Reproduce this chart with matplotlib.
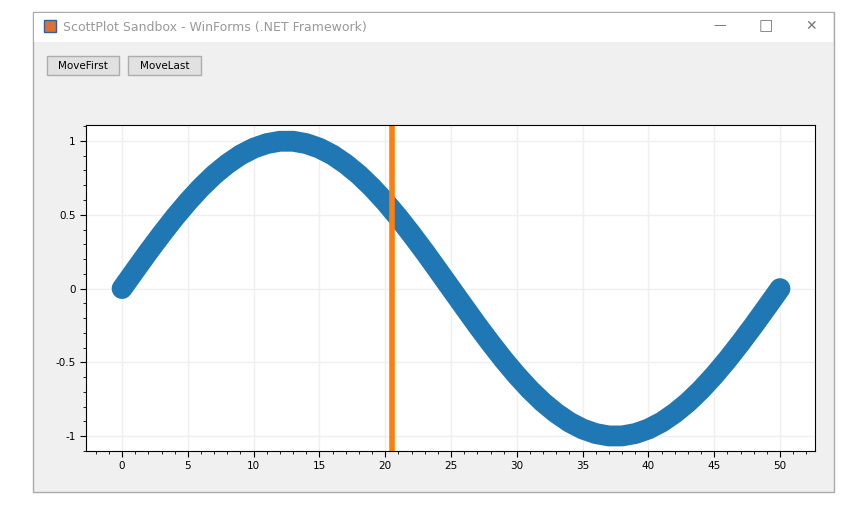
import matplotlib
matplotlib.use("Agg")
import matplotlib.pyplot as plt
from matplotlib.patches import Rectangle
from matplotlib.ticker import MultipleLocator

xs = list(range(51))
half = [0.0, 0.125, 0.249, 0.368, 0.482, 0.588, 0.685, 0.771, 0.844, 0.905, 0.951,
        0.982, 0.998, 0.998, 0.982, 0.951, 0.905, 0.844, 0.771, 0.685, 0.588, 0.482,
        0.368, 0.249, 0.125]
ys = half + [0.0] + [-v for v in half[1:]] + [0.0]
vline_x = 20.5
buttons = ["MoveFirst", "MoveLast"]

W, H = 861, 524
fig = plt.figure(figsize=(W / 100, H / 100), dpi=100)
fig.patch.set_facecolor("white")

def px(x, y, w, h):
    return (x / W, 1 - (y + h) / H, w / W, h / H)

# window frame
x0, y0, w0, h0 = px(33, 12, 801, 480)
fig.patches.append(Rectangle((x0, y0), w0, h0, transform=fig.transFigure,
                             facecolor="#f0f0f0", edgecolor="#aaaaaa", lw=1))
x0, y0, w0, h0 = px(34, 13, 799, 29)
fig.patches.append(Rectangle((x0, y0), w0, h0, transform=fig.transFigure,
                             facecolor="white", edgecolor="none"))
fig.text(63 / W, 1 - 27 / H, "ScottPlot Sandbox - WinForms (.NET Framework)",
         fontsize=9, color="#999999", va="center", family="DejaVu Sans")
x0, y0, w0, h0 = px(44, 20, 12, 12)
fig.patches.append(Rectangle((x0, y0), w0, h0, transform=fig.transFigure,
                             facecolor="#e07030", edgecolor="#3060a0", lw=1))
fig.text(720 / W, 1 - 26 / H, "\u2014", fontsize=9, color="#777777", ha="center", va="center")
fig.text(766 / W, 1 - 26 / H, "\u25a1", fontsize=11, color="#777777", ha="center", va="center")
fig.text(811 / W, 1 - 26 / H, "\u2715", fontsize=10, color="#777777", ha="center", va="center")

for (bx, bw), label in zip([(47, 72), (128, 73)], buttons):
    x0, y0, w0, h0 = px(bx, 56, bw, 19)
    fig.patches.append(Rectangle((x0, y0), w0, h0, transform=fig.transFigure,
                                 facecolor="#e1e1e1", edgecolor="#adadad", lw=1))
    fig.text((bx + bw / 2) / W, 1 - 66 / H, label, fontsize=7.5,
             ha="center", va="center")

ax = fig.add_axes(px(86, 125, 729, 326))
ax.set_zorder(5)
ax.set_facecolor("white")
ax.plot(xs, ys, color="#1f77b4", lw=15, solid_capstyle="round", solid_joinstyle="round")
ax.axvline(vline_x, color="#ff7f0e", lw=4)
ax.set_xlim(-2.74, 52.66)
ax.set_ylim(-1.10, 1.108)
ax.xaxis.set_major_locator(MultipleLocator(5))
ax.xaxis.set_minor_locator(MultipleLocator(1))
ax.yaxis.set_minor_locator(MultipleLocator(0.1))
ax.set_yticks([-1, -0.5, 0, 0.5, 1])
ax.set_yticklabels(["-1", "-0.5", "0", "0.5", "1"])
ax.grid(True, which="major", color="#efefef", lw=1)
ax.set_axisbelow(True)
ax.tick_params(labelsize=7.5, length=4, width=0.8)
ax.tick_params(which="minor", length=2, width=0.6)
for s in ax.spines.values():
    s.set_linewidth(0.8)

fig.savefig("out.png", dpi=100, facecolor="white")
